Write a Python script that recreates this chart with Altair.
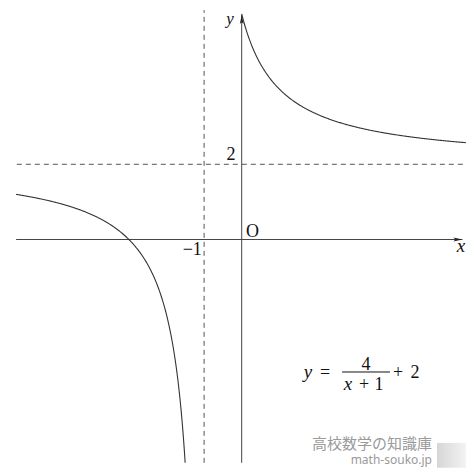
import altair as alt
import numpy as np
import pandas as pd

# Function y = a/(x + b) + c shown in the chart
A, B, C = 4, 1, 2
asym_x = [-1]
asym_y = [2]

# scale domains (equal unit scale, ~37.6 px per unit)
XD = [-6.215, 5.965]
YD = [-5.971, 6.05]

# curve branches
left_x = np.linspace(-6.0, -1.504, 300)
right_x = np.linspace(0.0, 5.96, 300)
curve = pd.concat([
    pd.DataFrame({"x": left_x, "y": A / (left_x + B) + C, "branch": "L", "o": np.arange(300)}),
    pd.DataFrame({"x": right_x, "y": A / (right_x + B) + C, "branch": "R", "o": np.arange(300)}),
])

def X(f="x"):
    return alt.X(f, type="quantitative", scale=alt.Scale(domain=XD, nice=False, zero=False), axis=None)

def Y(f="y"):
    return alt.Y(f, type="quantitative", scale=alt.Scale(domain=YD, nice=False, zero=False), axis=None)

# axes
axes_df = pd.DataFrame({"x": [-6.0, 0.0], "x2": [5.87, 0.0], "y": [0.0, -5.94], "y2": [0.0, 5.97]})
axes = alt.Chart(axes_df).mark_rule(color="#444", strokeWidth=1).encode(
    x=X(), x2="x2", y=Y(), y2="y2")

arrow_up = alt.Chart(pd.DataFrame({"x": [0.0], "y": [5.85]})).mark_point(
    shape="M0,-1L0.42,1L0,0.55L-0.42,1Z", filled=True, color="#222", size=81, opacity=1
).encode(x=X(), y=Y())
arrow_right = alt.Chart(pd.DataFrame({"x": [5.75], "y": [0.0]})).mark_point(
    shape="M1,0L-1,0.42L-0.55,0L-1,-0.42Z", filled=True, color="#222", size=81, opacity=1
).encode(x=X(), y=Y())

# asymptotes
asym_df = pd.DataFrame({"x": [asym_x[0], -5.98], "x2": [asym_x[0], 6.02],
                        "y": [-5.94, asym_y[0]], "y2": [6.1, asym_y[0]]})
asym = alt.Chart(asym_df).mark_rule(color="#555", strokeWidth=1, strokeDash=[5, 4]).encode(
    x=X(), x2="x2", y=Y(), y2="y2")

curve_layer = alt.Chart(curve).mark_line(color="#333", strokeWidth=1.1).encode(
    x=X(), y=Y(), detail="branch", order="o")

# labels
serif = "Liberation Serif"
ylab = alt.Chart(pd.DataFrame({"x": [-0.31], "y": [5.73], "t": ["y"]})).mark_text(
    font=serif, fontStyle="italic", fontSize=17, color="#111", baseline="alphabetic", align="center"
).encode(x=X(), y=Y(), text="t")

ital_df = pd.DataFrame({"x": [5.83, 1.763, 2.827], "y": [-0.33, -3.68, -4.0],
                        "t": ["x", "y", "x"]})
ital = alt.Chart(ital_df).mark_text(font=serif, fontStyle="italic", fontSize=19, color="#111",
                                    baseline="alphabetic", align="center").encode(
    x=X(), y=Y(), text="t")

up_df = pd.DataFrame({"x": [0.29, -0.285, 2.215, 3.306, 3.253, 3.652, 4.157, 4.609],
                      "y": [0.066, 2.11, -3.68, -3.47, -4.0, -4.0, -3.68, -3.68],
                      "t": ["O", "2", "=", "4", "+", "1", "+", "2"]})
up = alt.Chart(up_df).mark_text(font=serif, fontSize=18, color="#111",
                                baseline="alphabetic", align="center").encode(
    x=X(), y=Y(), text="t")

minus1 = alt.Chart(pd.DataFrame({"x": [-1.06], "y": [-0.41], "t": ["−1"]})).mark_text(
    font=serif, fontSize=18, color="#111", baseline="alphabetic", align="right").encode(
    x=X(), y=Y(), text="t")

bar = alt.Chart(pd.DataFrame({"x": [2.67], "x2": [3.944], "y": [-3.524]})).mark_rule(
    color="#111", strokeWidth=1).encode(x=X(), x2="x2", y=Y())

# watermark
wm1 = alt.Chart(pd.DataFrame({"x": [5.061], "y": [-5.572], "t": ["高校数学の知識庫"]})).mark_text(
    font="Noto Sans CJK JP", fontSize=15, color="#9a9a9a", baseline="alphabetic", align="right").encode(
    x=X(), y=Y(), text="t")
wm2 = alt.Chart(pd.DataFrame({"x": [5.061], "y": [-5.98], "t": ["math-souko.jp"]})).mark_text(
    font="Noto Sans", fontSize=12, color="#9a9a9a", baseline="alphabetic", align="right").encode(
    x=X(), y=Y(), text="t")
box = alt.Chart(pd.DataFrame({"x": [5.194], "x2": [5.965], "y": [-5.41], "y2": [-6.07]})).mark_rect(
    color=alt.Gradient(gradient="linear", stops=[alt.GradientStop(color="#d6d6d6", offset=0),
                                                 alt.GradientStop(color="#f3f3f3", offset=1)],
                       x1=0, x2=1, y1=0, y2=0)
).encode(x=X(), x2="x2", y=Y(), y2="y2")

chart = alt.layer(box, asym, axes, arrow_up, arrow_right, curve_layer, ylab, ital, up, minus1, bar, wm1, wm2).properties(
    width=458, height=452, padding={"left": 0, "top": 4, "right": 0, "bottom": 4},
    autosize=alt.AutoSizeParams(type="none"), background="white"
).configure_view(strokeWidth=0)

chart.save("out.html", embed_options={"renderer": "svg", "actions": False})
